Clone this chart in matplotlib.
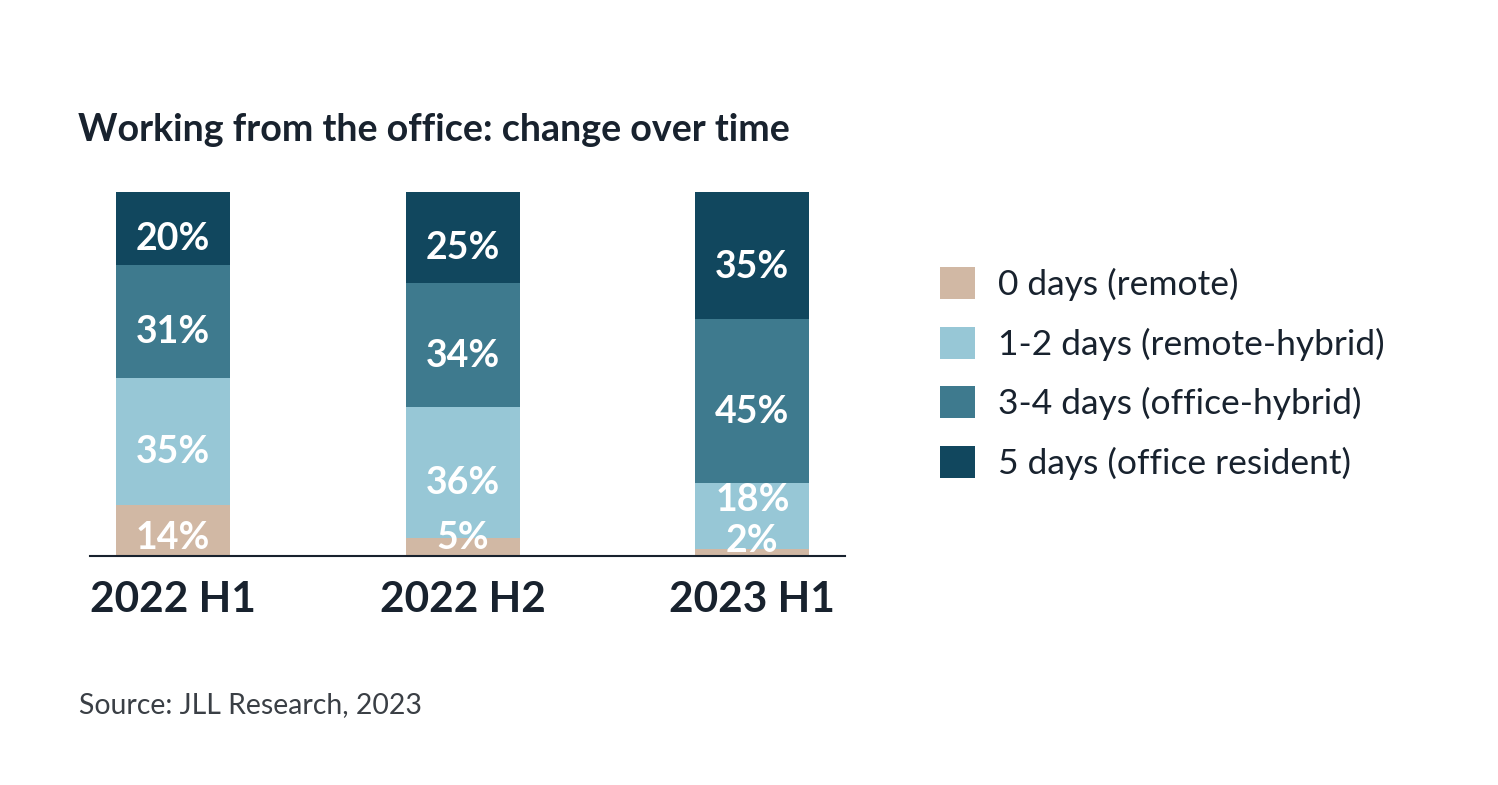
import matplotlib.pyplot as plt
from matplotlib.patches import Patch

# data
periods = ["2022 H1", "2022 H2", "2023 H1"]
series_names = ["0 days (remote)", "1-2 days (remote-hybrid)",
                "3-4 days (office-hybrid)", "5 days (office resident)"]
remote = [14, 5, 2]
remote_hybrid = [35, 36, 18]
office_hybrid = [31, 34, 45]
resident = [20, 25, 35]

colors = ["#D1B8A4", "#97C7D6", "#3E7A8E", "#11475E"]
text_dark = "#18222E"

plt.rcParams['font.family'] = ['Lato', 'DejaVu Sans']

fig = plt.figure(figsize=(14.98, 7.85), dpi=100)
ax = fig.add_axes([0.0601, 0.2917, 0.504, 0.4637])

x = [0, 1, 2]
width = 0.394
bottom = [0, 0, 0]
prev_label = [None, None, None]
handles = []
for name, vals, col in zip(series_names,
                           [remote, remote_hybrid, office_hybrid, resident],
                           colors):
    ax.bar(x, vals, width, bottom=bottom, color=col, linewidth=0)
    for i, (xi, b, v) in enumerate(zip(x, bottom, vals)):
        # labels sit a bit low in each segment; keep clear of the axis
        # and of a tiny segment's label underneath
        y = b + v / 2 - 3
        if b == 0:
            y = max(b + v / 2 - 2, 5 - (1 if v < 3 else 0))
        elif prev_label[i] is not None and b < 10:
            y = max(y, prev_label[i] + 11.5)
        prev_label[i] = y
        ax.text(xi, y, f"{v}%", ha='center', va='center', color='white',
                fontsize=27, fontweight='bold')
    bottom = [b + v for b, v in zip(bottom, vals)]
    handles.append(Patch(facecolor=col, label=name))

ax.set_xlim(-0.287, 2.32)
ax.set_ylim(0, 100)
for s in ['top', 'right', 'left']:
    ax.spines[s].set_visible(False)
ax.spines['bottom'].set_color(text_dark)
ax.spines['bottom'].set_linewidth(1.5)
ax.set_yticks([])
ax.set_xticks(x)
ax.set_xticklabels(periods, fontsize=30.5, fontweight='bold', color=text_dark)
ax.tick_params(axis='x', length=0, pad=18)

fig.text(0.052, 0.834, "Working from the office: change over time",
         fontsize=27.1, fontweight='bold', color=text_dark, va='center')
fig.text(0.053, 0.102, "Source: JLL Research, 2023", fontsize=20.4,
         color='#3a3f45', va='center')

fig.legend(handles=handles, loc='upper left', bbox_to_anchor=(0.606, 0.70),
           frameon=False, fontsize=25.5, handlelength=1.0, handleheight=1.0,
           handletextpad=0.65, labelspacing=0.72, labelcolor=text_dark)

fig.savefig("out.png", dpi=100, facecolor='white')
